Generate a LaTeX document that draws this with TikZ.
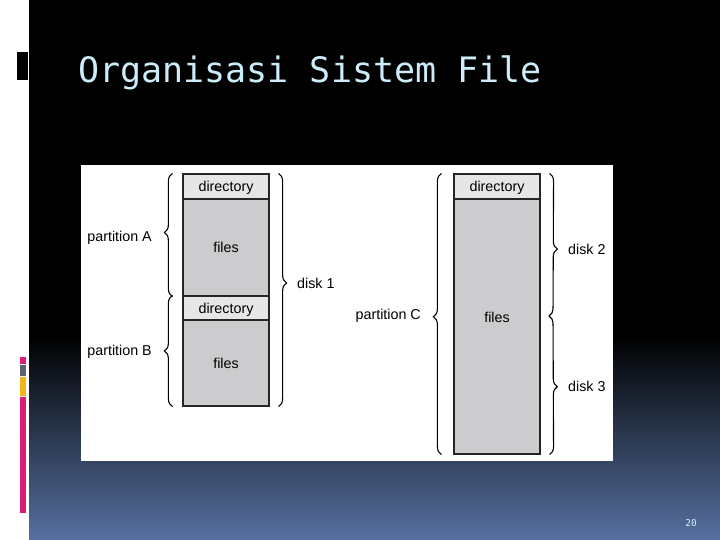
\documentclass[tikz,border=0pt]{standalone}
\usepackage{fontspec}
\setmainfont{Liberation Sans}
\newfontfamily\titlefont{DejaVu Sans Mono}
\usetikzlibrary{decorations.pathreplacing}
\definecolor{titleblue}{RGB}{205,236,250}
\definecolor{bgblue}{RGB}{86,112,160}
\definecolor{dirgray}{RGB}{230,230,230}
\definecolor{filegray}{RGB}{204,204,206}
\definecolor{barpink}{RGB}{218,30,120}
\definecolor{bargray}{RGB}{90,100,110}
\definecolor{baryellow}{RGB}{245,180,30}
\tikzset{
  box/.style={draw=black!85, line width=1.2pt, inner sep=0pt, minimum width=86pt,
              text depth=0pt, font=\fontsize{14.3}{16}\selectfont},
  dirbox/.style={box, fill=dirgray},
  filebox/.style={box, fill=filegray},
  lbl/.style={inner sep=0pt, font=\fontsize{14.3}{16}\selectfont},
  curly/.style={decorate, line width=1.1pt, decoration={brace, amplitude=8pt, aspect=#1}},
  curly/.default=0.5
}
\begin{document}
\begin{tikzpicture}[x=1pt,y=-1pt]
\useasboundingbox (0,0) rectangle (720,540);
% background
\fill[white] (0,0) rectangle (720,540);
\fill[black] (29,0) rectangle (720,335);
\shade[top color=black, bottom color=bgblue] (29,335) rectangle (720,540);
\fill[black] (17,52) rectangle (28,80);
\fill[barpink] (20,357) rectangle (26,364);
\fill[bargray] (20,365) rectangle (26,376);
\fill[baryellow] (20,377) rectangle (26,396);
\fill[barpink] (20,397) rectangle (26,513);
% title
\node[anchor=base west, inner sep=0pt, text=titleblue, font=\titlefont\fontsize{35}{40}\selectfont] (title) at (78,83) {Organisasi Sistem File};
\node[anchor=center, inner sep=0pt, text=titleblue, font=\titlefont\fontsize{9.5}{10}\selectfont] (pnum) at (691,523) {20};
% panel
\fill[white] (81,165) rectangle (613,461);
% left disk
\node[dirbox, minimum height=25pt] (dA) at (226,186.5) {directory};
\node[filebox, minimum height=97pt] (fA) at (226,247.5) {files};
\node[dirbox, minimum height=24pt] (dB) at (226,308) {directory};
\node[filebox, minimum height=86pt] (fB) at (226,363) {files};
% right disk
\node[dirbox, minimum height=25pt] (dC) at (497,186.5) {directory};
\node[filebox, minimum height=255pt] (fC) at (497,326.5) {};
\node[lbl] (fCl) at (497,317) {files};
% braces
\draw[curly=0.52] ([xshift=-10pt]fA.south west) -- ([xshift=-10pt]dA.north west);
\draw[curly=0.5] ([xshift=-10pt]fB.south west) -- ([xshift=-10pt]dB.north west);
\draw[curly=0.47] ([xshift=9pt]dA.north east) -- ([xshift=9pt]fB.south east);
\draw[curly=0.49] ([xshift=-12pt]fC.south west) -- ([xshift=-12pt]dC.north west);
\coordinate (split) at (549,316);
\draw[curly=0.53] ([xshift=9pt]dC.north east) -- (split);
\draw[curly=0.51] (split) -- ([xshift=9pt]fC.south east);
% labels
\node[lbl, anchor=east] (pA) at (152,238) {partition A};
\node[lbl, anchor=east] (pB) at (152,352) {partition B};
\node[lbl, anchor=east] (pC) at (421,316) {partition C};
\node[lbl, anchor=west] (d1) at (297,283) {disk 1};
\node[lbl, anchor=west] (d2) at (568,249) {disk 2};
\node[lbl, anchor=west] (d3) at (568,386) {disk 3};
\end{tikzpicture}
\end{document}
